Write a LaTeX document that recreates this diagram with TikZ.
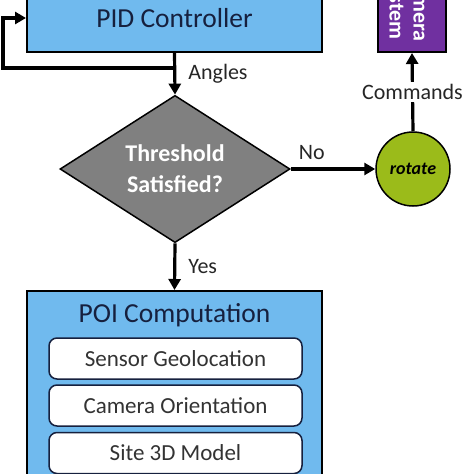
\documentclass[tikz,border=0pt]{standalone}
\usepackage{fontspec}
\setmainfont{Carlito}
\usetikzlibrary{shapes.geometric,arrows.meta}
\definecolor{boxblue}{RGB}{112,186,238}
\definecolor{navy}{RGB}{22,32,62}
\definecolor{decgray}{RGB}{128,128,128}
\definecolor{rotgreen}{RGB}{155,187,26}
\definecolor{campurple}{RGB}{112,48,160}
\tikzset{
  blk/.style={draw=black, line width=2pt, fill=boxblue, inner sep=0pt, minimum width=295pt},
  ttl/.style={font=\fontsize{27.5}{30}\selectfont, text=navy},
  subblk/.style={draw=navy, line width=1.5pt, fill=white, rounded corners=8pt,
    minimum width=253pt, minimum height=41pt, font=\fontsize{23}{26}\selectfont, text=black!80},
  flow/.style={line width=3.2pt, -{Triangle[length=11pt,width=12pt]}},
  lbl/.style={font=\fontsize{22}{26}\selectfont, text=black!85, inner sep=2pt}
}
\begin{document}
\begin{tikzpicture}[x=1pt,y=-1pt]
\useasboundingbox (0,0) rectangle (474,474);
\clip (0,0) rectangle (474,474);
% controller and camera (cut at the top)
\node[blk, minimum height=68pt] (pid) at (174.5,18) {};
\node[ttl] at (pid.center) {PID Controller};
\node[draw=black, line width=2pt, fill=campurple, minimum width=68pt, minimum height=84pt, inner sep=0pt] (cam) at (412,10) {};
\node[rotate=-90, align=center, inner sep=0pt, text=white, font=\fontsize{22}{24}\selectfont\bfseries] (camtxt) at (407,7) {Camera\\System};
% decision
\node[diamond, draw=black, line width=1.5pt, fill=decgray, minimum width=230pt, minimum height=138pt,
  inner sep=0pt, align=center, text=white, font=\fontsize{24}{31}\selectfont\bfseries] (thr) at (175,169) {Threshold\\Satisfied?};
\node[circle, draw=black, line width=1.5pt, fill=rotgreen, minimum size=74pt, inner sep=0pt,
  font=\fontsize{18}{20}\selectfont\bfseries\itshape] (rot) at (413,169) {rotate};
% POI computation (cut at the bottom)
\node[blk, minimum height=220pt, anchor=north] (poi) at (174.5,290) {};
\node[ttl] (poittl) at (174.5,315) {POI Computation};
\node[subblk] (geo) at (175.5,358.5) {Sensor Geolocation};
\node[subblk] (ori) at (175.5,405.5) {Camera Orientation};
\node[subblk] (site) at (175.5,453) {Site 3D Model};
% connectors
\draw[flow] (pid.south) -- (thr.north) node[lbl, midway, right, xshift=10pt] {Angles};
\draw[flow] (pid.south |- 0,68) -| (3,18) -- (pid.west);
\draw[flow] (thr.east) -- (rot.west) node[lbl, pos=0.25, above, yshift=6pt] {No};
\draw[flow] (rot.north) -- (cam.south) node[lbl, midway, fill=white] {Commands};
\draw[flow] (thr.south) -- (poi.north) node[lbl, midway, right, xshift=10pt] {Yes};
\end{tikzpicture}
\end{document}
